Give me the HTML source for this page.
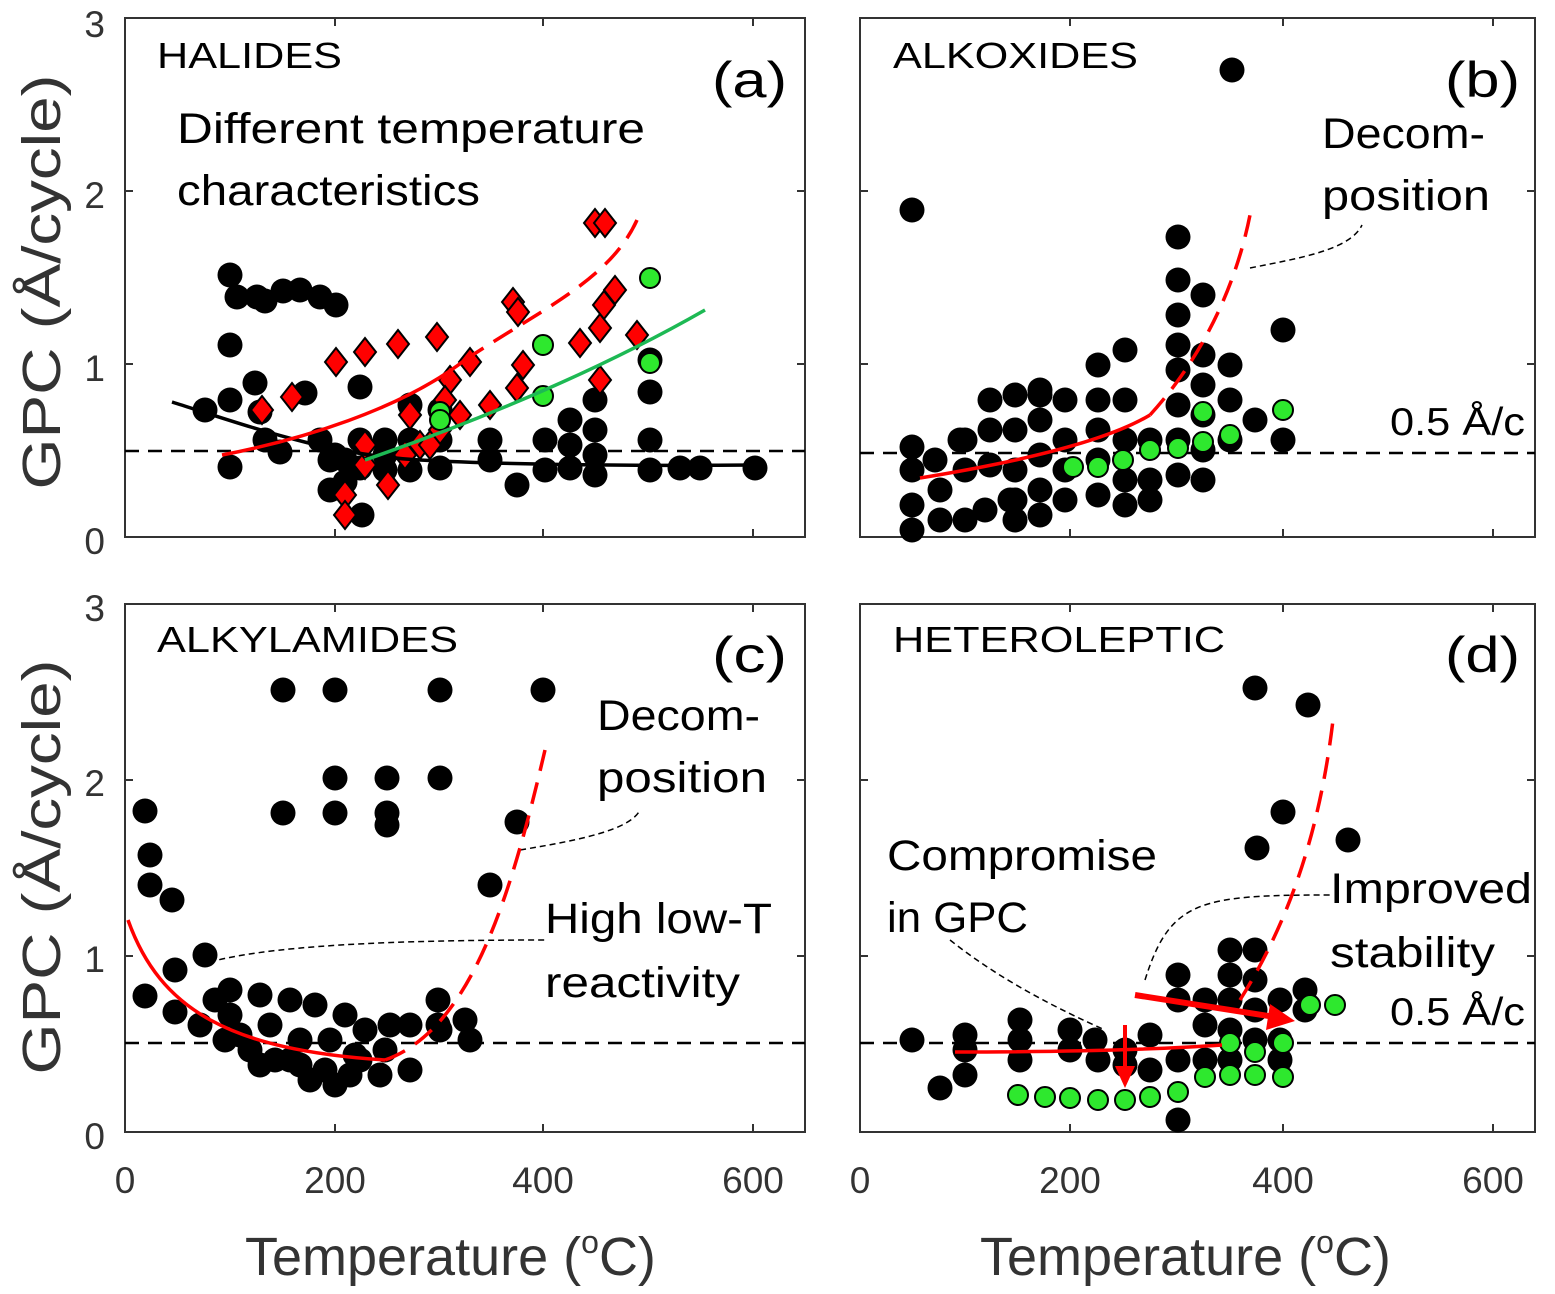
<!DOCTYPE html>
<html><head><meta charset="utf-8"><style>
html,body{margin:0;padding:0;background:#fff}
svg{display:block}
text{font-family:"Liberation Sans",sans-serif}
</style></head><body>
<svg id="s" width="1555" height="1294" viewBox="0 0 1555 1294" xmlns="http://www.w3.org/2000/svg">
<g fill="none" stroke="#333" stroke-width="2">
<rect x="125" y="18" width="680" height="519"/>
<rect x="860" y="18" width="675" height="519"/>
<rect x="125" y="604" width="680" height="528"/>
<rect x="860" y="604" width="675" height="528"/>
</g>
<g id="ticks" stroke="#333" stroke-width="2"></g>
<g stroke="#000" stroke-width="2.5" stroke-dasharray="14,9">
<line x1="125" y1="451" x2="805" y2="451"/>
<line x1="860" y1="453" x2="1535" y2="453"/>
<line x1="125" y1="1043" x2="805" y2="1043"/>
<line x1="860" y1="1043" x2="1535" y2="1043"/>
</g>
<g fill="none" stroke="#000" stroke-width="1.5" stroke-dasharray="6,4">
<path d="M1250,268 C1300,258 1350,250 1362,225"/>
<path d="M200,965 C260,945 400,940 545,940"/>
<path d="M520,850 C580,840 630,830 640,810"/>
<path d="M950,940 C1000,980 1060,1010 1105,1030"/>
<path d="M1145,980 C1170,900 1200,895 1330,895"/>
</g>
<g id="pts"></g>
<g fill="none" stroke-width="3.5">
<path d="M172,402 C260,430 330,455 420,460 S650,466 755,465" stroke="#000"/>
<path d="M222,455 C300,440 400,410 465,360" stroke="#f00"/>
<path d="M465,360 C540,310 610,280 637,220" stroke="#f00" stroke-dasharray="22,12"/>
<path d="M365,460 C480,420 600,370 705,310" stroke="#1db954"/>
<path d="M920,478 C1000,465 1100,445 1150,415" stroke="#f00"/>
<path d="M1150,415 C1200,360 1235,290 1250,215" stroke="#f00" stroke-dasharray="22,12"/>
<path d="M128,920 C160,1010 230,1050 385,1060" stroke="#f00"/>
<path d="M385,1060 C470,1030 510,900 545,750" stroke="#f00" stroke-dasharray="22,12"/>
<path d="M955,1052 C1050,1052 1150,1050 1222,1045" stroke="#f00"/>
<path d="M1240,1000 C1290,920 1320,830 1333,720" stroke="#f00" stroke-dasharray="22,12"/>
<path d="M1135,995 L1275,1017" stroke="#f00" stroke-width="6"/>
<path d="M1125,1025 L1125,1072" stroke="#f00" stroke-width="4"/>
</g>
<polygon points="1295,1021 1270,1004 1266,1030" fill="#f00"/>
<polygon points="1125,1088 1115,1066 1135,1066" fill="#f00"/>
<g fill="#000" font-size="36" lengthAdjust="spacingAndGlyphs">
<text x="157" y="68" textLength="185" lengthAdjust="spacingAndGlyphs">HALIDES</text>
<text x="893" y="68" textLength="245" lengthAdjust="spacingAndGlyphs">ALKOXIDES</text>
<text x="157" y="652" textLength="301" lengthAdjust="spacingAndGlyphs">ALKYLAMIDES</text>
<text x="893" y="652" textLength="332" lengthAdjust="spacingAndGlyphs">HETEROLEPTIC</text>
</g>
<g fill="#000" font-size="50">
<text x="712" y="97" textLength="75" lengthAdjust="spacingAndGlyphs">(a)</text><text x="1445" y="97" textLength="75" lengthAdjust="spacingAndGlyphs">(b)</text>
<text x="712" y="672" textLength="75" lengthAdjust="spacingAndGlyphs">(c)</text><text x="1445" y="672" textLength="75" lengthAdjust="spacingAndGlyphs">(d)</text>
</g>
<g fill="#000" font-size="43">
<text x="177" y="143" textLength="468" lengthAdjust="spacingAndGlyphs">Different temperature</text>
<text x="177" y="205" textLength="303" lengthAdjust="spacingAndGlyphs">characteristics</text>
<text x="1322" y="148" textLength="163" lengthAdjust="spacingAndGlyphs">Decom-</text><text x="1322" y="210" textLength="168" lengthAdjust="spacingAndGlyphs">position</text>
<text x="597" y="730" textLength="163" lengthAdjust="spacingAndGlyphs">Decom-</text><text x="597" y="792" textLength="170" lengthAdjust="spacingAndGlyphs">position</text>
<text x="545" y="933" textLength="227" lengthAdjust="spacingAndGlyphs">High low-T</text><text x="545" y="997" textLength="195" lengthAdjust="spacingAndGlyphs">reactivity</text>
<text x="887" y="870" textLength="270" lengthAdjust="spacingAndGlyphs">Compromise</text><text x="887" y="932" textLength="141" lengthAdjust="spacingAndGlyphs">in GPC</text>
<text x="1330" y="903" textLength="202" lengthAdjust="spacingAndGlyphs">Improved</text><text x="1330" y="967" textLength="165" lengthAdjust="spacingAndGlyphs">stability</text>
<text x="1390" y="435" font-size="39" textLength="135" lengthAdjust="spacingAndGlyphs">0.5 Å/c</text>
<text x="1390" y="1025" font-size="39" textLength="135" lengthAdjust="spacingAndGlyphs">0.5 Å/c</text>
</g>
<g fill="#333" font-size="37" text-anchor="end">
<text x="105" y="37">3</text><text x="105" y="208">2</text><text x="105" y="381">1</text><text x="105" y="554">0</text>
<text x="105" y="621">3</text><text x="105" y="796">2</text><text x="105" y="972">1</text><text x="105" y="1149">0</text>
</g>
<g fill="#333" font-size="37" text-anchor="middle">
<text x="125" y="1193">0</text><text x="335" y="1193">200</text><text x="543" y="1193">400</text><text x="753" y="1193">600</text>
<text x="860" y="1193">0</text><text x="1070" y="1193">200</text><text x="1283" y="1193">400</text><text x="1493" y="1193">600</text>
</g>
<g fill="#333" font-size="54">
<text x="245" y="1275">Temperature (<tspan font-size="32" dy="-22">o</tspan><tspan dy="22">C)</tspan></text>
<text x="980" y="1275">Temperature (<tspan font-size="32" dy="-22">o</tspan><tspan dy="22">C)</tspan></text>
<text transform="translate(60,282) rotate(-90)" text-anchor="middle" textLength="415" lengthAdjust="spacingAndGlyphs">GPC (Å/cycle)</text>
<text transform="translate(60,867) rotate(-90)" text-anchor="middle" textLength="415" lengthAdjust="spacingAndGlyphs">GPC (Å/cycle)</text>
</g>
</svg>
<script>
var NS="http://www.w3.org/2000/svg",g=document.getElementById("pts"),tk=document.getElementById("ticks");
function el(n,a,p){var e=document.createElementNS(NS,n);for(var k in a)e.setAttribute(k,a[k]);(p||g).appendChild(e);}
var blk=[[230,275],[230,345],[237,297],[257,297],[265,301],[283,291],[300,290],[320,297],[336,305],[205,410],[230,400],[230,467],[255,383],[260,412],[265,440],[280,452],[305,393],[320,440],[330,460],[330,490],[335,455],[360,387],[360,440],[360,468],[362,515],[385,440],[385,455],[385,470],[410,405],[410,440],[410,470],[440,410],[440,440],[440,468],[490,440],[490,460],[517,485],[545,440],[545,470],[570,420],[570,445],[570,468],[595,400],[595,430],[595,455],[595,475],[650,360],[650,392],[650,440],[650,470],[680,468],[700,468],[755,468],[345,482],[345,460],
[912,210],[1232,70],[912,447],[912,470],[912,505],[912,530],[940,520],[940,490],[965,470],[965,440],[965,520],[990,400],[990,430],[990,465],[1015,395],[1015,430],[1015,470],[1015,500],[1015,520],[1040,395],[1040,420],[1040,455],[1040,490],[1040,515],[1065,400],[1065,440],[1065,470],[1065,500],[1098,365],[1098,400],[1098,430],[1098,460],[1098,495],[1125,350],[1125,400],[1125,440],[1125,480],[1125,505],[1150,440],[1150,480],[1150,500],[1178,237],[1178,280],[1178,315],[1178,345],[1178,370],[1178,405],[1178,440],[1178,475],[1203,295],[1203,355],[1203,385],[1203,415],[1203,450],[1203,480],[1230,365],[1230,400],[1230,440],[1255,420],[1283,330],[1283,440],[960,440],[935,460],[1040,390],[1010,500],[985,510],
[145,811],[150,855],[150,885],[172,900],[145,996],[175,970],[205,955],[230,990],[260,995],[290,1000],[315,1005],[175,1012],[200,1025],[225,1040],[250,1050],[275,1060],[300,1065],[325,1070],[350,1075],[380,1075],[410,1070],[335,1085],[355,1055],[330,1040],[345,1015],[365,1030],[390,1025],[410,1025],[440,1030],[470,1040],[465,1020],[438,1000],[438,1025],[283,690],[335,690],[440,690],[543,690],[283,813],[335,778],[335,813],[387,778],[387,813],[387,825],[440,778],[490,885],[517,822],[240,1035],[270,1025],[300,1040],[260,1065],[290,1060],[310,1080],[360,1060],[385,1050],[215,1000],[230,1015],
[912,1040],[940,1088],[965,1035],[965,1050],[965,1075],[1020,1020],[1020,1040],[1020,1060],[1070,1030],[1070,1050],[1098,1060],[1125,1050],[1125,1065],[1150,1070],[1178,1060],[1178,1120],[1205,1000],[1205,1025],[1205,1060],[1230,950],[1230,975],[1230,1000],[1230,1030],[1230,1060],[1255,950],[1255,980],[1255,1010],[1255,1040],[1280,1000],[1280,1040],[1280,1060],[1305,990],[1305,1010],[1255,688],[1308,705],[1283,812],[1257,848],[1348,840],[1178,975],[1178,1000],[1150,1035],[1095,1040]];
blk.forEach(function(p){el("circle",{cx:p[0],cy:p[1],r:12.5,fill:"#000"});});
var dia=[[262,410],[292,397],[336,362],[365,352],[398,344],[437,337],[470,362],[450,380],[490,405],[513,302],[518,312],[523,365],[517,388],[580,343],[600,328],[604,305],[595,223],[605,223],[615,290],[637,335],[600,380],[345,495],[345,515],[388,485],[365,465],[365,445],[405,455],[420,445],[440,430],[410,415],[430,445],[460,415],[445,400]];
dia.forEach(function(p){var x=p[0],y=p[1];el("polygon",{points:(x)+","+(y-14)+" "+(x+11)+","+y+" "+x+","+(y+14)+" "+(x-11)+","+y,fill:"#f00",stroke:"#000","stroke-width":2});});
var grn=[[440,412],[440,420],[543,345],[543,396],[650,278],[650,363],[1073,467],[1098,467],[1123,460],[1150,450],[1178,448],[1203,412],[1203,442],[1230,435],[1283,410],[1018,1095],[1045,1097],[1070,1098],[1098,1100],[1125,1100],[1150,1097],[1178,1092],[1205,1077],[1230,1075],[1230,1043],[1255,1052],[1255,1075],[1283,1043],[1283,1077],[1310,1005],[1335,1005]];
grn.forEach(function(p){el("circle",{cx:p[0],cy:p[1],r:10,fill:"#2ee82e",stroke:"#000","stroke-width":2});});
[[125,805,18,537,[125,335,543,753]],[860,1535,18,537,[860,1070,1283,1493]],[125,805,604,1132,[125,335,543,753]],[860,1535,604,1132,[860,1070,1283,1493]]].forEach(function(a){
 a[4].forEach(function(x){el("line",{x1:x,y1:a[3],x2:x,y2:a[3]-8},tk);el("line",{x1:x,y1:a[2],x2:x,y2:a[2]+8},tk);});
 for(var i=0;i<=3;i++){var y=a[3]-(a[3]-a[2])*i/3;el("line",{x1:a[0],y1:y,x2:a[0]+8,y2:y},tk);el("line",{x1:a[1],y1:y,x2:a[1]-8,y2:y},tk);}
});
</script>
</body></html>
